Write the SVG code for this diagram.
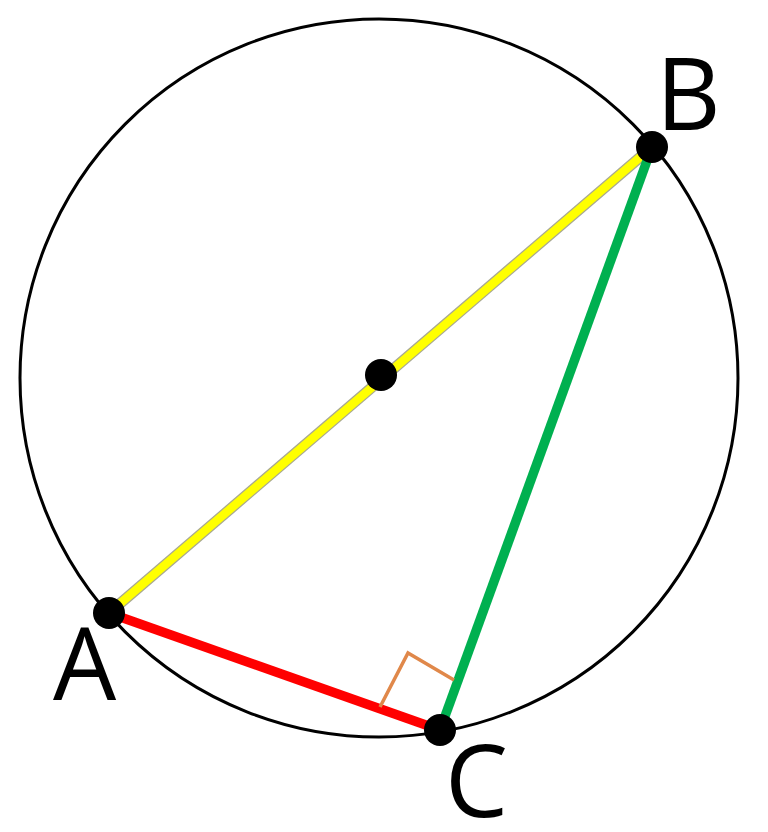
<svg xmlns="http://www.w3.org/2000/svg" width="768" height="832" viewBox="0 0 768 832">
<style>
.lbl{font-family:"Open Sans","Liberation Sans",sans-serif;font-size:100px;fill:#000}
.pt{fill:#000}
</style>
<rect width="768" height="832" fill="#fff"/>
<g id="circle"><circle cx="379" cy="378" r="359" fill="none" stroke="#000" stroke-width="3"/></g>
<g id="connectors">
<line x1="109" y1="613" x2="652" y2="147" stroke="#a8a890" stroke-width="11"/>
<line x1="109" y1="613" x2="652" y2="147" stroke="#ffff00" stroke-width="8.5"/>
<line x1="109" y1="613" x2="440" y2="730" stroke="#ff0000" stroke-width="9.5"/>
<line x1="652" y1="147" x2="440" y2="730" stroke="#00b050" stroke-width="9.5"/>
<polyline points="380,707 408,653 454,680" fill="none" stroke="#e0884a" stroke-width="3.5"/>
</g>
<g id="center"><circle class="pt" cx="381" cy="375" r="16"/></g>
<g id="A"><circle class="pt" cx="109" cy="613" r="16"/><text class="lbl" x="53" y="700">A</text></g>
<g id="B"><circle class="pt" cx="652" cy="147" r="16"/><text class="lbl" x="656" y="130">B</text></g>
<g id="C"><circle class="pt" cx="440" cy="730" r="16"/><text class="lbl" x="445" y="817">C</text></g>
</svg>
